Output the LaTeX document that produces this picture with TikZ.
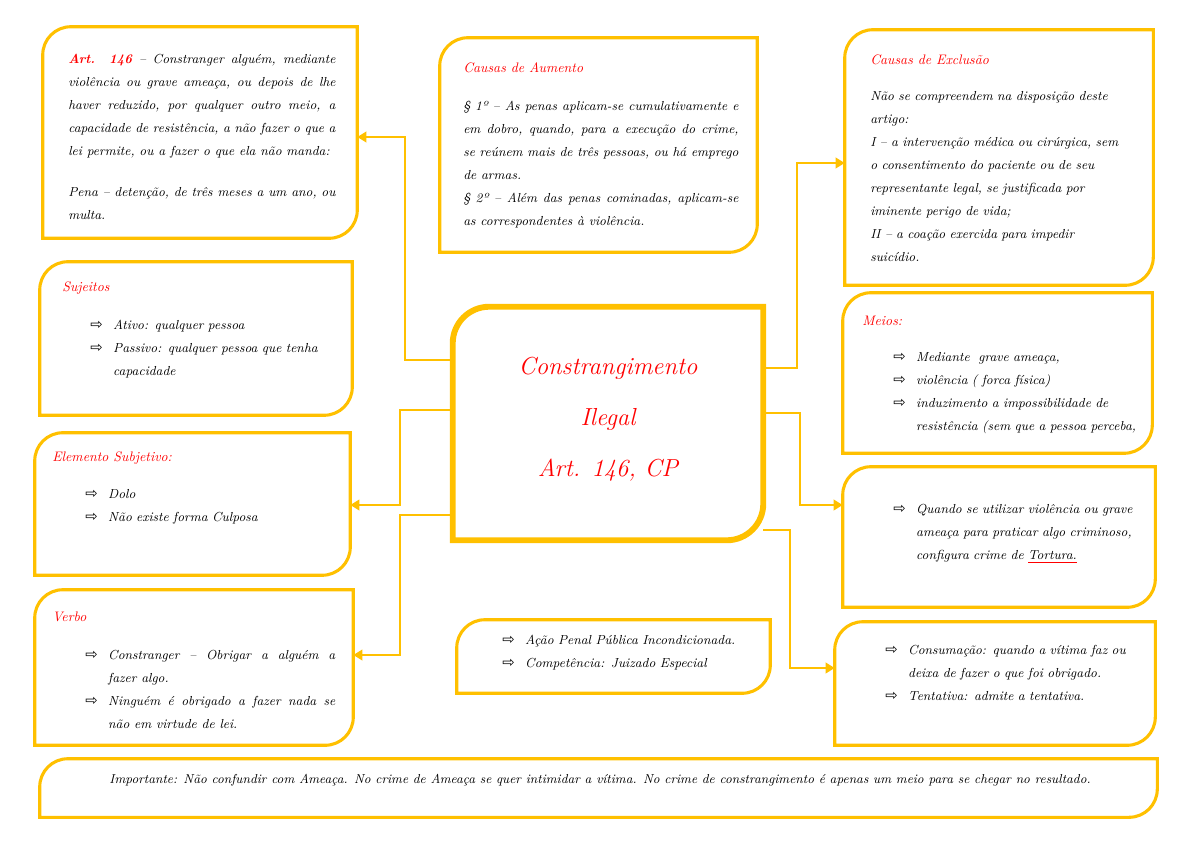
\documentclass[tikz,border=0pt]{standalone}
\usepackage{fontspec}
\usetikzlibrary{arrows.meta,fit,positioning}
\newfontfamily\symfont{DejaVu Sans}
\definecolor{gold}{HTML}{FFC000}
\definecolor{titlered}{HTML}{FF0000}
\hyphenpenalty=10000
\newcommand{\pointer}{{\symfont\fontsize{10.5}{12}\selectfont ⇨}}
\newcommand{\bitem}[1]{\hangindent=1.75em\hangafter=1\noindent\makebox[1.75em][l]{\pointer}#1\par}
\newcommand{\squiggle}[1]{\setbox0\hbox{#1}\rlap{\textcolor{titlered}{\rule[-0.6ex]{\wd0}{0.8pt}}}#1}
% frame with round top-left and bottom-right corners
\newcommand{\framepanel}[3]{%
  \draw[#3] (#1.north east) -- ([yshift=#2]#1.south east)
    arc[start angle=0,end angle=-90,radius=#2] -- (#1.south west)
    -- ([yshift=-#2]#1.north west) arc[start angle=180,end angle=90,radius=#2] -- cycle;}
\tikzset{
  panel/.style={inner sep=0pt},
  panelline/.style={draw=gold, line width=2.2pt},
  coreline/.style={draw=gold, line width=4.2pt},
  boxtext/.style={anchor=north west, inner sep=0pt, align=justify,
    font=\fontsize{9.3}{16.4}\selectfont\itshape},
  boxtitle/.style={anchor=west, inner sep=0pt, text=titlered,
    font=\fontsize{9.8}{12}\selectfont\itshape},
  link/.style={draw=gold, line width=2pt, -{Triangle[width=7.5pt,length=6.5pt]}}
}
\begin{document}
\begin{tikzpicture}[x=0.025cm,y=-0.025cm]
  \useasboundingbox (0,0) rectangle (1200,849);

  \foreach \n/\xa/\ya/\xb/\yb in {art/43/27/357/238, aumento/440/38/757/252,
                                  exclusao/845/30/1153/285, sujeitos/40/262/352/415,
                                  elemento/35/433/350/575, verbo/35/590/353/745,
                                  meios/843/293/1152/453, tortura/843/467/1155/607,
                                  consumacao/835/622/1155/745, acao/457/620/770/693,
                                  importante/40/759/1157/817} {
    \node[panel, fit={(\xa,\ya) (\xb,\yb)}] (\n) {};
    \framepanel{\n}{20pt}{panelline}
  }
  \node[panel, fit={(453,307) (763,540)}] (core) {};
  \framepanel{core}{26pt}{coreline}

  \node[align=center, text=titlered, font=\fontsize{17.5}{36}\selectfont\itshape]
    (core-txt) at ([yshift=3pt]core.center) {Constrangimento\\Ilegal\\Art. 146, CP};

  \node[boxtext, text width=6.68cm] (art-txt) at (68,54)
    {{\color{titlered}\bfseries Art. 146} – Constranger alguém, mediante\linebreak violência ou grave ameaça, ou depois de lhe\linebreak haver reduzido, por qualquer outro meio, a\linebreak capacidade de resistência, a não fazer o que a\linebreak lei permite, ou a fazer o que ela não manda:\par\vspace{12.5pt}\noindent Pena – detenção, de três meses a um ano, ou\linebreak multa.};

  \node[boxtitle] (aumento-ttl) at (463,68) {Causas de Aumento};
  \node[boxtext, text width=6.88cm] (aumento-txt) at (463,101)
    {§ 1º – As penas aplicam-se cumulativamente e\linebreak em dobro, quando, para a execução do crime,\linebreak se reúnem mais de três pessoas, ou há emprego\linebreak de armas.\par\noindent § 2º – Além das penas cominadas, aplicam-se\linebreak as correspondentes à violência.};

  \node[boxtitle] (exclusao-ttl) at (870,60) {Causas de Exclusão};
  \node[boxtext, align=left, text width=6.9cm] (exclusao-txt) at (870,91)
    {Não se compreendem na disposição deste\\ artigo:\\ I – a intervenção médica ou cirúrgica, sem\\ o consentimento do paciente ou de seu\\ representante legal, se justificada por\\ iminente perigo de vida;\\ II – a coação exercida para impedir\\ suicídio.};

  \node[boxtitle] (sujeitos-ttl) at (62,288) {Sujeitos};
  \node[boxtext, align=left, text width=6.0cm] (sujeitos-txt) at (90,320)
    {\bitem{Ativo: qualquer pessoa}\bitem{Passivo: qualquer pessoa que tenha\linebreak capacidade}};

  \node[boxtitle] (elemento-ttl) at (52,458) {Elemento Subjetivo:};
  \node[boxtext, align=left, text width=6.25cm] (elemento-txt) at (85,489)
    {\bitem{Dolo}\bitem{Não existe forma Culposa}};

  \node[boxtitle] (verbo-ttl) at (52,617) {Verbo};
  \node[boxtext, text width=6.25cm] (verbo-txt) at (85,650)
    {\bitem{Constranger – Obrigar a alguém a\linebreak fazer algo.}\bitem{Ninguém é obrigado a fazer nada se\linebreak não em virtude de lei.}};

  \node[boxtitle] (meios-ttl) at (862,321) {Meios:};
  \node[boxtext, align=left, text width=6.3cm] (meios-txt) at (893,352)
    {\bitem{Mediante\ \ grave ameaça,}\bitem{violência ( forca física)}\bitem{induzimento a impossibilidade de\linebreak resistência (sem que a pessoa perceba,}};

  \node[boxtext, align=left, text width=6.3cm] (tortura-txt) at (893,504)
    {\bitem{Quando se utilizar violência ou grave\linebreak ameaça para praticar algo criminoso,\linebreak configura crime de \squiggle{Tortura.}}};

  \node[boxtext, align=left, text width=6.3cm] (consumacao-txt) at (885,645)
    {\bitem{Consumação: quando a vítima faz ou\linebreak deixa de fazer o que foi obrigado.}\bitem{Tentativa: admite a tentativa.}};

  \node[boxtext, align=left, text width=6.6cm] (acao-txt) at (502,635)
    {\bitem{Ação Penal Pública Incondicionada.}\bitem{Competência: Juizado Especial}};

  \node[inner sep=0pt, font=\fontsize{9.2}{12}\selectfont\itshape] (importante-txt) at (600,780)
    {Importante: Não confundir com Ameaça. No crime de Ameaça se quer intimidar a vítima. No crime de constrangimento é apenas um meio para se chegar no resultado.};

  \draw[link] (core.west |- 0,360) -- (405,360) |- (art.east |- 0,137);
  \draw[link] (core.west |- 0,410) -- (400,410) |- (elemento.east |- 0,505);
  \draw[link] (core.west |- 0,515) -- (400,515) |- (verbo.east |- 0,655);
  \draw[link] (core.east |- 0,368) -- (797,368) |- (exclusao.west |- 0,163);
  \draw[link] (core.east |- 0,413) -- (800,413) |- (tortura.west |- 0,505);
  \draw[link] (core.east |- 0,530) -- (790,530) |- (consumacao.west |- 0,668);
\end{tikzpicture}
\end{document}
